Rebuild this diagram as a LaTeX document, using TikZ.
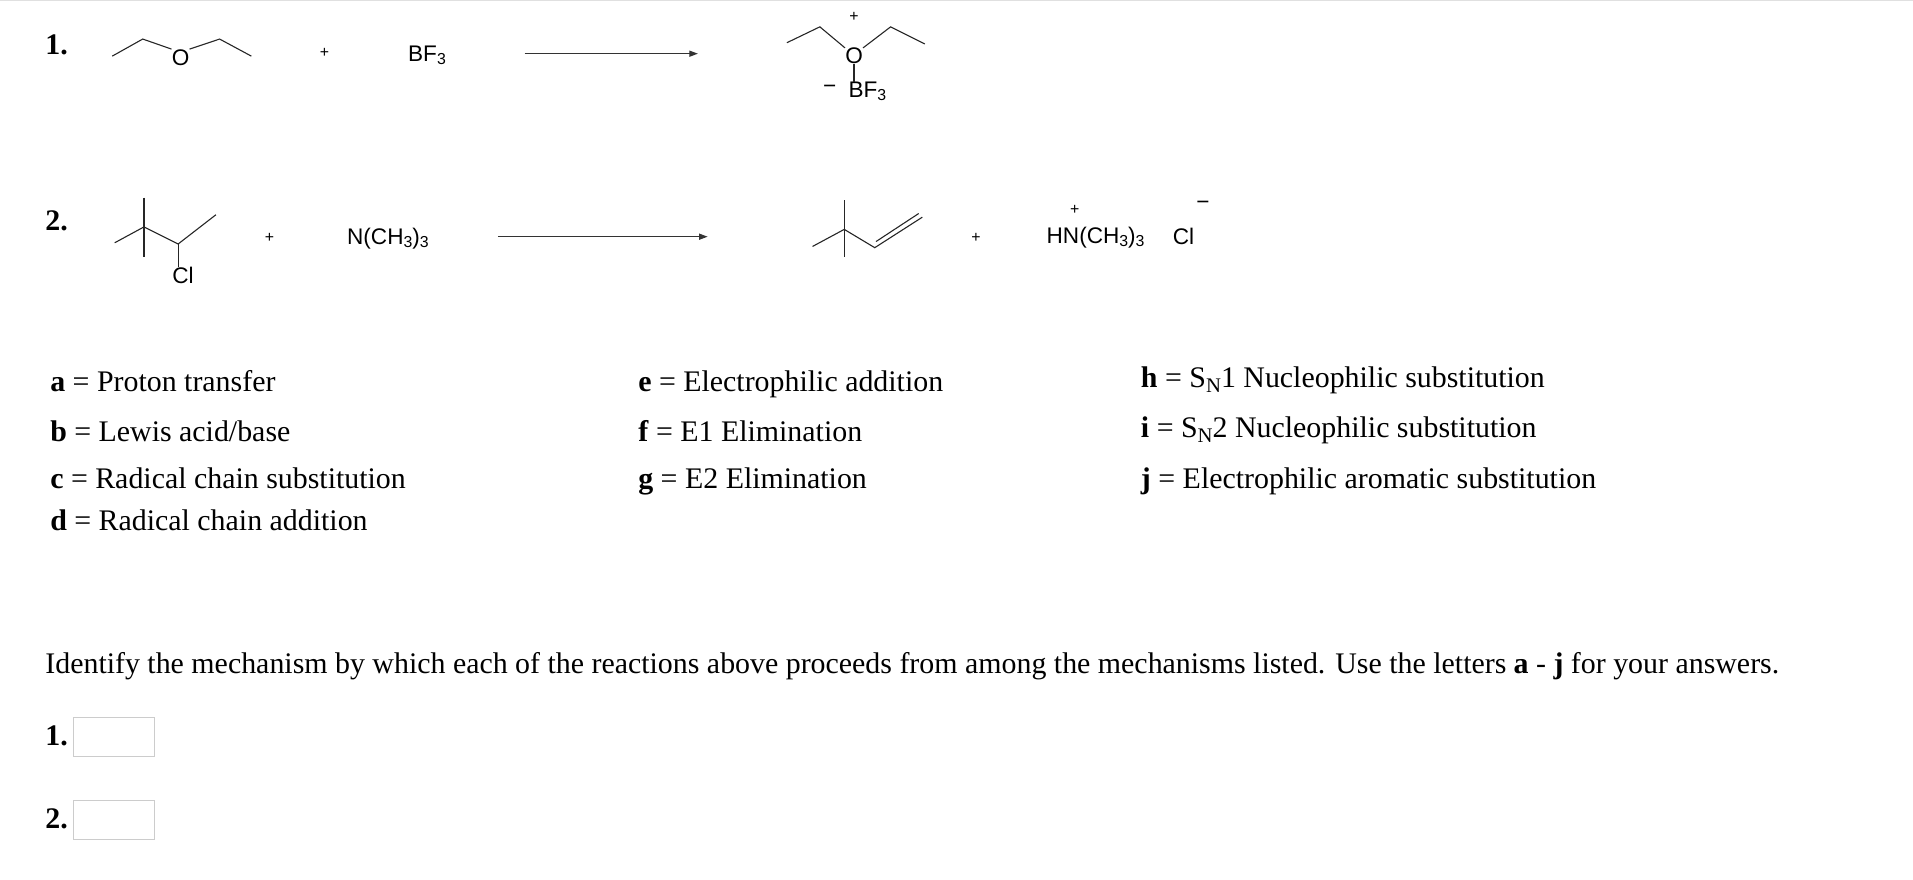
\documentclass[tikz,border=0pt]{standalone}
\usepackage{fontspec}
\setmainfont{Liberation Serif}
\newfontfamily\chem{Liberation Sans}
\usetikzlibrary{arrows.meta,calc}
\newcommand{\cs}[1]{\raisebox{-0.25ex}{\fontsize{13}{14}\selectfont #1}}
\newcommand{\sn}{S\raisebox{-0.3ex}{\fontsize{17}{18}\selectfont N}}
\begin{document}
\begin{tikzpicture}[x=1pt,y=-1pt,
  txt/.style={anchor=base west,inner sep=0pt,font=\fontsize{24.5}{28}\selectfont},
  num/.style={anchor=base west,inner sep=0pt,font=\fontsize{24.5}{28}\selectfont\bfseries},
  ch/.style={inner sep=0pt,font=\chem\fontsize{18.5}{20}\selectfont},
  chs/.style={inner sep=0pt,font=\chem\fontsize{13}{14}\selectfont},
  bond/.style={line width=0.9pt,black!85},
  rxn/.style={line width=1pt,black!80,-{Triangle[length=7pt,width=5pt]}},
  ansbox/.style={draw=black!20,line width=0.8pt,minimum width=67pt,minimum height=32pt,inner sep=0pt}]
\useasboundingbox (0,0) rectangle (1568,721);
\draw[black!12,line width=1pt] (0,0.5) -- (1568,0.5);
% ---------- reaction 1
\node[num] (n1) at (37,45) {1.};
\node[ch] (o1) at (148,47) {O};
\coordinate (e1) at (92,46); \coordinate (e2) at (117,32);
\coordinate (e3) at (180,32); \coordinate (e4) at (206,46);
\draw[bond] (e1) -- (e2) -- (o1.north west);
\draw[bond] (o1.north east) -- (e3) -- (e4);
\node[chs] (p1) at (266,43) {+};
\node[ch] (bf) at (350,45) {BF\cs{3}};
\coordinate (a1s) at (430,44); \coordinate (a1e) at (572,44);
\draw[rxn] (a1s) -- (a1e);
\node[ch] (o2) at (700,46) {O};
\node[chs] (pl2) at (700,14) {+};
\coordinate (f1) at (645,35); \coordinate (f2) at (672,22);
\coordinate (f3) at (730,22); \coordinate (f4) at (758,36);
\draw[bond] (f1) -- (f2) -- (o2.north west);
\draw[bond] (o2.north east) -- (f3) -- (f4);
\node[ch] (bf2) at (711,75) {BF\cs{3}};
\node[ch] (mi2) at (680,73) {−};
\draw[bond] (o2.south) -- (bf2.north -| o2.south);
% ---------- reaction 2
\node[num] (n2) at (37,189) {2.};
\coordinate (c1) at (118,186);
\coordinate (c1u) at (118,162); \coordinate (c1d) at (118,211);
\coordinate (c1l) at (94,199); \coordinate (c2) at (146,200);
\coordinate (c3) at (177,176);
\node[ch] (cl1) at (150,226) {Cl};
\draw[bond] (c1u) -- (c1d);
\draw[bond] (c1l) -- (c1) -- (c2) -- (c3);
\draw[bond] (c2) -- (c2 |- cl1.north);
\node[chs] (p2) at (221,195) {+};
\node[ch] (nme) at (318,196) {N(CH\cs{3})\cs{3}};
\coordinate (a2s) at (408,194); \coordinate (a2e) at (580,194);
\draw[rxn] (a2s) -- (a2e);
\coordinate (d1) at (692,188);
\coordinate (d1u) at (692,164); \coordinate (d1d) at (692,211);
\coordinate (d1l) at (666,202); \coordinate (d2) at (717,203);
\coordinate (d3) at (756,178);
\draw[bond] (d1u) -- (d1d);
\draw[bond] (d1l) -- (d1) -- (d2) -- (d3);
\draw[bond] ($(d2)+(1,-5)$) -- ($(d3)+(-3,-3)$);
\node[chs] (p3) at (800,195) {+};
\node[ch] (hn) at (898,195) {HN(CH\cs{3})\cs{3}};
\node[chs] (pl3) at (881,172) {+};
\node[ch] (cl2) at (970,194) {Cl};
\node[ch] (mi3) at (986,168) {−};
% ---------- legend
\node[txt] (la) at (41,321) {\textbf{a} = Proton transfer};
\node[txt] (lb) at (41,362) {\textbf{b} = Lewis acid/base};
\node[txt] (lc) at (41,400) {\textbf{c} = Radical chain substitution};
\node[txt] (ld) at (41,435) {\textbf{d} = Radical chain addition};
\node[txt] (le) at (523,321) {\textbf{e} = Electrophilic addition};
\node[txt] (lf) at (523,362) {\textbf{f} = E1 Elimination};
\node[txt] (lg) at (523,400) {\textbf{g} = E2 Elimination};
\node[txt] (lh) at (935,318) {\textbf{h} = \sn1 Nucleophilic substitution};
\node[txt] (li) at (935,359) {\textbf{i} = \sn2 Nucleophilic substitution};
\node[txt] (lj) at (935,400) {\textbf{j} = Electrophilic aromatic substitution};
% ---------- question
\node[txt] (q) at (37,552) {Identify the mechanism by which each of the reactions above proceeds from among the mechanisms listed. Use the letters \textbf{a} - \textbf{j} for your answers.};
\node[num] (q1) at (37,611) {1.};
\node[ansbox] (b1) at (93.5,604) {};
\node[num] (q2) at (37,679) {2.};
\node[ansbox] (b2) at (93.5,672) {};
\end{tikzpicture}
\end{document}
